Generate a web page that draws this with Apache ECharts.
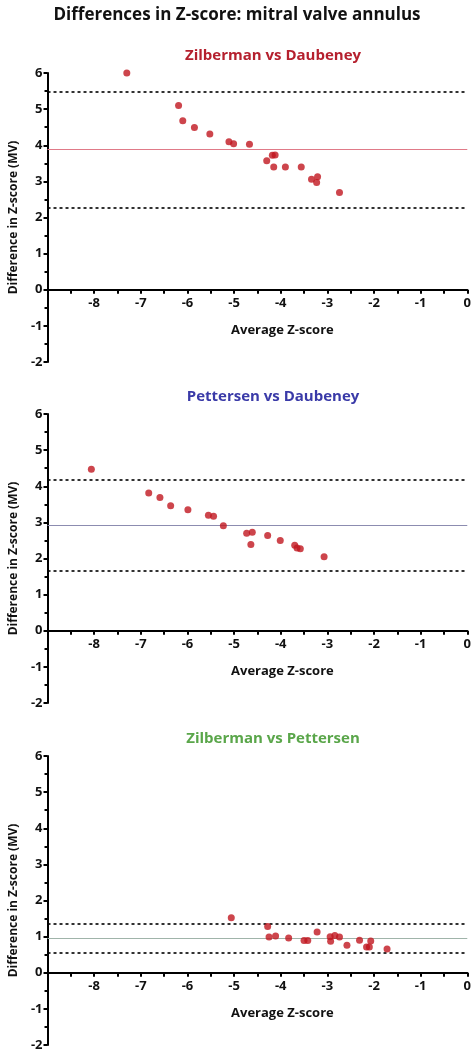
<!DOCTYPE html>
<html>
<head>
<meta charset="utf-8">
<title>Differences in Z-score</title>
<script src="https://cdn.jsdelivr.net/npm/echarts@6/dist/echarts.min.js"></script>
<style>body{margin:0;background:#fff}</style>
</head>
<body>
<div id="main" style="width:474px;height:1052px;"></div>
<script>
// Zilberman vs Daubeney
var zdX = [-7.30, -6.19, -6.10, -5.85, -5.52, -5.11, -5.01, -4.67, -4.30, -4.18, -4.12, -4.15, -3.90, -3.56, -3.34, -3.21, -3.23, -2.74];
var zdY = [6.00, 5.10, 4.68, 4.49, 4.31, 4.10, 4.04, 4.03, 3.57, 3.72, 3.73, 3.40, 3.40, 3.40, 3.06, 3.13, 2.97, 2.69];
var zdLines = [3.89, 5.49, 2.26]; // mean, upper, lower

// Pettersen vs Daubeney
var pdX = [-8.06, -6.83, -6.59, -6.36, -5.99, -5.55, -5.44, -5.23, -4.73, -4.61, -4.64, -4.28, -4.01, -3.70, -3.65, -3.58, -3.07];
var pdY = [4.47, 3.81, 3.69, 3.46, 3.35, 3.20, 3.17, 2.91, 2.70, 2.73, 2.39, 2.64, 2.50, 2.37, 2.29, 2.27, 2.05];
var pdLines = [2.93, 4.18, 1.66];

// Zilberman vs Pettersen
var zpX = [-5.06, -4.28, -4.25, -4.11, -3.83, -3.50, -3.42, -3.22, -2.94, -2.93, -2.84, -2.74, -2.58, -2.31, -2.16, -2.10, -2.07, -1.72];
var zpY = [1.52, 1.28, 0.99, 1.02, 0.96, 0.89, 0.89, 1.13, 1.00, 0.87, 1.03, 0.99, 0.76, 0.90, 0.71, 0.71, 0.88, 0.66];
var zpLines = [0.96, 1.37, 0.55];

var panelTitles = ['Zilberman vs Daubeney', 'Pettersen vs Daubeney', 'Zilberman vs Pettersen'];
var titleColors = ['#b5202e', '#3a3aa8', '#5aa64a'];
var meanColors = ['#e07a88', '#8c8cb0', '#a0b4aa'];
var panelTops = [73, 414, 756];

var chart = echarts.init(document.getElementById('main'));
var font = 'Open Sans, Liberation Sans, sans-serif';

function zip(a, b) { return a.map(function (v, i) { return [v, b[i]]; }); }

var xs = [zdX, pdX, zpX], ys = [zdY, pdY, zpY], ls = [zdLines, pdLines, zpLines];
var grid = [], xAxis = [], yAxis = [], series = [];
var title = [{
  text: 'Differences in Z-score: mitral valve annulus', left: 'center', top: 2,
  textStyle: {fontFamily: font, fontSize: 17, fontWeight: 'bold', color: '#111'}
}];
var H = 289;

for (var i = 0; i < 3; i++) {
  grid.push({left: 35, right: 5, top: panelTops[i], height: H});
  title.push({
    text: panelTitles[i], left: 268, textAlign: 'center', top: panelTops[i] - 30,
    textStyle: {fontFamily: font, fontSize: 15, fontWeight: 'bold', color: titleColors[i]}
  });
  xAxis.push({
    gridIndex: i, type: 'value', min: -9, max: 0, interval: 1,
    position: 'bottom', offset: -H * 2 / 8,
    name: 'Average Z-score', nameLocation: 'middle', nameGap: 34,
    nameTextStyle: {fontFamily: font, fontSize: 13, fontWeight: 'bold', color: '#111', padding: [0, 0, 0, 50]},
    axisLine: {onZero: false, lineStyle: {color: '#000', width: 2}},
    axisTick: {length: 4, lineStyle: {width: 2, color: '#000'}},
    minorTick: {show: true, splitNumber: 2, length: 4, lineStyle: {width: 2, color: '#000'}},
    axisLabel: {fontFamily: font, fontSize: 13, fontWeight: 'bold', color: '#111', margin: 7,
      formatter: function (v) { return v === -9 ? '' : v; }},
    splitLine: {show: false}
  });
  yAxis.push({
    gridIndex: i, type: 'value', min: -2, max: 6, interval: 1,
    name: 'Difference in Z-score (MV)', nameLocation: 'middle', nameGap: 22,
    nameTextStyle: {fontFamily: font, fontSize: 12, fontWeight: 'bold', color: '#111'},
    axisLine: {show: true, onZero: false, lineStyle: {color: '#000', width: 2}},
    axisTick: {length: 4, lineStyle: {width: 2, color: '#000'}},
    minorTick: {show: true, splitNumber: 2, length: 3, lineStyle: {width: 2, color: '#000'}},
    axisLabel: {fontFamily: font, fontSize: 13, fontWeight: 'bold', color: '#111', margin: 5},
    splitLine: {show: false}
  });
  series.push({
    type: 'scatter', xAxisIndex: i, yAxisIndex: i, data: zip(xs[i], ys[i]),
    symbolSize: 7, itemStyle: {color: '#c0171f'}, z: 5,
    markLine: {
      silent: true, symbol: 'none', label: {show: false},
      lineStyle: {color: meanColors[i], width: 1, type: 'solid'},
      data: [{yAxis: ls[i][0]}]
    }
  });
  series.push({
    type: 'scatter', xAxisIndex: i, yAxisIndex: i, data: [],
    markLine: {
      silent: true, symbol: 'none', label: {show: false},
      lineStyle: {color: '#000', width: 1.6, type: [3, 3]},
      data: [{yAxis: ls[i][1]}, {yAxis: ls[i][2]}]
    }
  });
}

chart.setOption({
  animation: false,
  title: title, grid: grid, xAxis: xAxis, yAxis: yAxis, series: series
});
</script>
</body>
</html>
